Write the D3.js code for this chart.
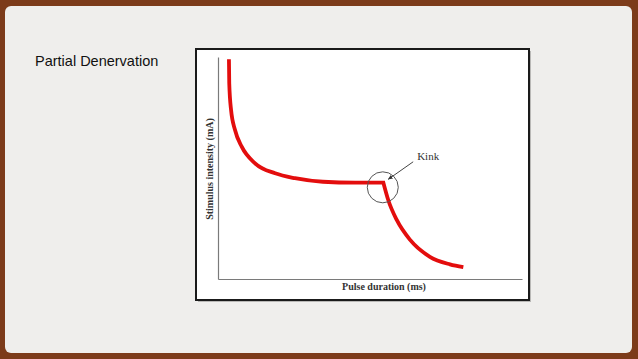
<!DOCTYPE html>
<html>
<head>
<meta charset="utf-8">
<script src="https://cdn.jsdelivr.net/npm/d3@7"></script>
<style>
  html, body { margin: 0; padding: 0; background: #7c3b1a; }
  svg { display: block; }
</style>
</head>
<body>
<svg id="slide" width="638" height="359"></svg>
<script>
// strength-duration curve, arbitrary units (0-100 on both axes)
const normalDuration = [3.6, 3.7, 4.3, 5.6, 7.8, 12.2, 18.8, 25.3, 34.5, 45.1, 54.4];
const normalIntensity = [99.0, 88.2, 76.1, 67.1, 59.6, 52.1, 47.6, 45.4, 43.8, 43.4, 43.4];
const denervDuration = [54.4, 56.0, 58.8, 63.2, 69.7, 76.3, 80.7];
const denervIntensity = [43.4, 35.6, 26.6, 17.6, 10.0, 6.6, 5.3];

const kinkPoint = [54.2, 41.3];
const arrowFrom = [64.2, 52.8];
const arrowTo = [56.0, 44.9];

const slideTitle = "Partial Denervation";
const xLabel = "Pulse duration (ms)";
const yLabel = "Stimulus intensity (mA)";
const kinkLabel = "Kink";

const svg = d3.select("#slide");
const W = 638, H = 359;

// frame + paper
svg.append("rect").attr("width", W).attr("height", H).attr("fill", "#7c3b1a");
svg.append("rect")
  .attr("x", 5).attr("y", 6)
  .attr("width", W - 11).attr("height", H - 12)
  .attr("rx", 6)
  .attr("fill", "#efeeec");

svg.append("text")
  .attr("x", 35).attr("y", 66)
  .attr("font-family", "Liberation Sans, Arial, sans-serif")
  .attr("font-size", 14.5)
  .attr("fill", "#111")
  .text(slideTitle);

// chart box with shadow
const box = { x: 196, y: 49, w: 333, h: 251 };
svg.append("rect")
  .attr("x", box.x + 2).attr("y", box.y + 2)
  .attr("width", box.w).attr("height", box.h)
  .attr("fill", "#b9b8b6");
svg.append("rect")
  .attr("x", box.x).attr("y", box.y)
  .attr("width", box.w).attr("height", box.h)
  .attr("fill", "#fff")
  .attr("stroke", "#1a1a1a")
  .attr("stroke-width", 2);

const plot = { left: 218, right: 522, top: 57, bottom: 279 };

const x = d3.scaleLinear().domain([0, 100]).range([plot.left, plot.right]);
const y = d3.scaleLinear().domain([0, 100]).range([plot.bottom, plot.top]);

const g = svg.append("g");

// axes (plain lines, no ticks)
g.append("g")
  .attr("transform", `translate(0,${plot.bottom})`)
  .call(d3.axisBottom(x).tickValues([]).tickSizeOuter(0))
  .select(".domain").attr("stroke", "#7a7a7a").attr("stroke-width", 1.2);
g.append("g")
  .attr("transform", `translate(${plot.left},0)`)
  .call(d3.axisLeft(y).tickValues([]).tickSizeOuter(0))
  .select(".domain").attr("stroke", "#7a7a7a").attr("stroke-width", 1.2);

g.append("text")
  .attr("x", 384)
  .attr("y", 290)
  .attr("text-anchor", "middle")
  .attr("font-family", "Liberation Serif, Times New Roman, serif")
  .attr("font-weight", "bold")
  .attr("font-size", 10)
  .attr("fill", "#333")
  .text(xLabel);

g.append("text")
  .attr("transform", `translate(213,169) rotate(-90)`)
  .attr("text-anchor", "middle")
  .attr("font-family", "Liberation Serif, Times New Roman, serif")
  .attr("font-weight", "bold")
  .attr("font-size", 10)
  .attr("fill", "#333")
  .text(yLabel);

const line = d3.line()
  .x((d) => x(d[0]))
  .y((d) => y(d[1]))
  .curve(d3.curveMonotoneX);

const normalData = normalDuration.map((d, i) => [d, normalIntensity[i]]);
const denervData = denervDuration.map((d, i) => [d, denervIntensity[i]]);

// single path so the kink stays a sharp corner
const pathD = line(normalData) + line(denervData).replace(/^M/, "L");
g.append("path")
  .attr("d", pathD)
  .attr("fill", "none")
  .attr("stroke", "#e30d0d")
  .attr("stroke-width", 3.8)
  .attr("stroke-linejoin", "miter")
  .attr("stroke-linecap", "butt");

// kink annotation
g.append("circle")
  .attr("cx", x(kinkPoint[0]))
  .attr("cy", y(kinkPoint[1]))
  .attr("r", 15.5)
  .attr("fill", "none")
  .attr("stroke", "#555")
  .attr("stroke-width", 1);

svg.append("defs").append("marker")
  .attr("id", "arrow")
  .attr("viewBox", "0 0 10 10")
  .attr("refX", 9).attr("refY", 5)
  .attr("markerWidth", 5).attr("markerHeight", 5)
  .attr("orient", "auto")
  .append("path")
  .attr("d", "M0,1 L10,5 L0,9 Z")
  .attr("fill", "#333");

g.append("line")
  .attr("x1", x(arrowFrom[0])).attr("y1", y(arrowFrom[1]))
  .attr("x2", x(arrowTo[0])).attr("y2", y(arrowTo[1]))
  .attr("stroke", "#444")
  .attr("stroke-width", 1)
  .attr("marker-end", "url(#arrow)");

g.append("text")
  .attr("x", x(arrowFrom[0]) + 4)
  .attr("y", y(arrowFrom[1]) - 2)
  .attr("font-family", "Liberation Serif, Times New Roman, serif")
  .attr("font-size", 11)
  .attr("fill", "#333")
  .text(kinkLabel);
</script>
</body>
</html>
